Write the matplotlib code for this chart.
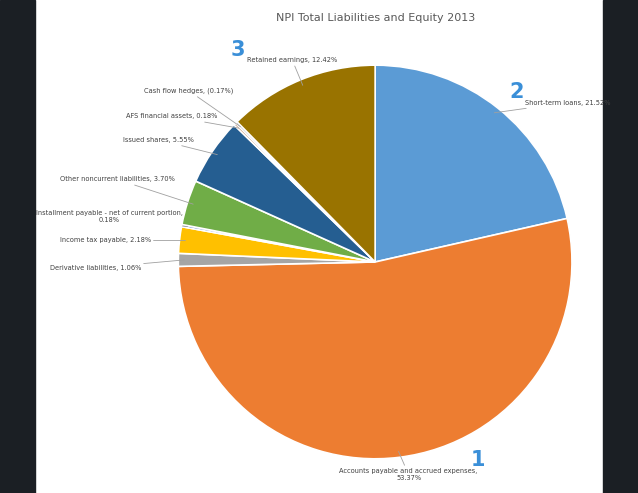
import numpy as np
import matplotlib.pyplot as plt
from matplotlib.patches import Rectangle

labels = ["Short-term loans, 21.52%", "Accounts payable and accrued expenses,\n53.37%",
          "Derivative liabilities, 1.06%", "Income tax payable, 2.18%",
          "Installment payable - net of current portion,\n0.18%",
          "Other noncurrent liabilities, 3.70%", "Issued shares, 5.55%",
          "AFS financial assets, 0.18%", "Cash flow hedges, (0.17%)",
          "Retained earnings, 12.42%"]
values = [21.52, 53.37, 1.06, 2.18, 0.18, 3.70, 5.55, 0.18, 0.17, 12.42]
colors = ["#5B9BD5", "#ED7D31", "#A5A5A5", "#FFC000", "#4472C4", "#70AD47",
          "#255E91", "#9E480E", "#636363", "#997300"]
# label text positions (data coords) and alignment
pos = [(0.76, 0.81, 'left'), (0.17, -1.08, 'center'), (-1.19, -0.03, 'right'),
       (-1.14, 0.11, 'right'), (-1.35, 0.23, 'center'), (-1.02, 0.42, 'right'),
       (-0.92, 0.62, 'right'), (-0.80, 0.74, 'right'), (-0.72, 0.87, 'right'),
       (-0.65, 1.025, 'left')]

fig = plt.figure(figsize=(6.38, 4.93), dpi=100)
fig.patches.append(Rectangle((0, 0), 35/638, 1, transform=fig.transFigure, color="#1b1f24", zorder=-1))
fig.patches.append(Rectangle((603/638, 0), 35/638, 1, transform=fig.transFigure, color="#1b1f24", zorder=-1))
ax = fig.add_axes([0.588-0.3085, 0.4686-0.3995, 0.617, 0.799])
wedges, _ = ax.pie(values, colors=colors, startangle=90, counterclock=False,
                   wedgeprops=dict(edgecolor='white', linewidth=1.2))
ax.set_xlim(-1, 1); ax.set_ylim(-1, 1); ax.set_aspect('equal')
ax.axis('off')

for w, lab, (tx, ty, ha) in zip(wedges, labels, pos):
    ang = np.deg2rad((w.theta1 + w.theta2) / 2)
    xy = (0.97*np.cos(ang), 0.97*np.sin(ang))
    ax.annotate(lab, xy=xy, xytext=(tx, ty), ha=ha, va='center', fontsize=4.8,
                color="#404040", multialignment='center', annotation_clip=False,
                arrowprops=dict(arrowstyle='-', color='#a0a0a0', lw=0.6,
                                shrinkA=0, shrinkB=0))

ax.text(0, 1.24, "NPI Total Liabilities and Equity 2013", ha='center', va='center',
        fontsize=8, color='#595959')
for t, x, y in [("1", 478, 460), ("2", 517, 92), ("3", 238, 50)]:
    ax.text((x-375)/197, (262-y)/197, t, fontsize=15, fontweight='bold',
            color='#3a8fd8', ha='center', va='center')

fig.savefig("out.png", dpi=100)
